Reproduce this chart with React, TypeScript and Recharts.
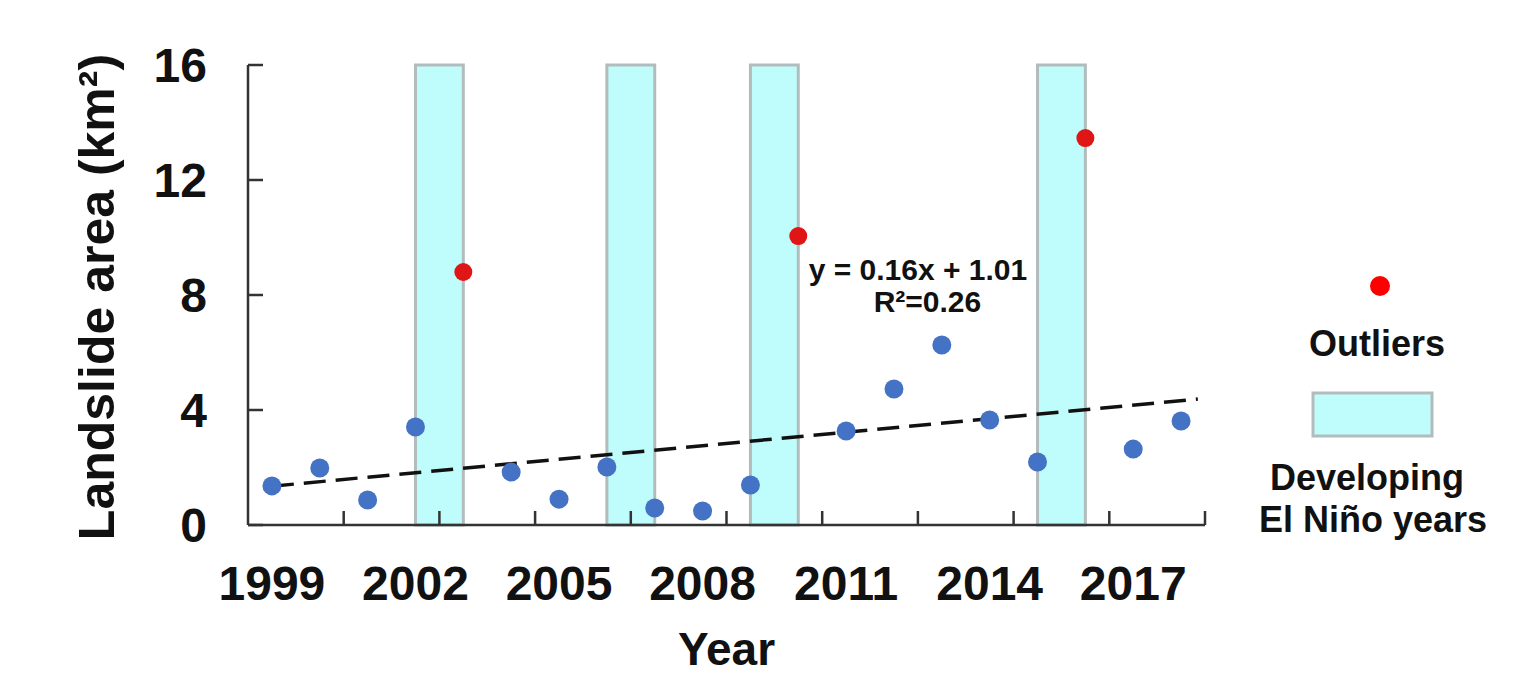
import {
  ComposedChart,
  Legend,
  Line,
  ReferenceArea,
  ReferenceDot,
  Scatter,
  XAxis,
  YAxis,
} from "recharts";

// Annual landslide area, 1999-2018
const YEARS = [
  1999, 2000, 2001, 2002, 2003, 2004, 2005, 2006, 2007, 2008, 2009, 2010, 2011,
  2012, 2013, 2014, 2015, 2016, 2017, 2018,
];
const AREA_KM2 = [
  1.36, 1.98, 0.87, 3.41, 8.8, 1.84, 0.9, 2.02, 0.59, 0.49, 1.39, 10.05, 3.27,
  4.73, 6.26, 3.65, 2.19, 13.46, 2.64, 3.62,
];
const OUTLIER_YEARS = [2003, 2010, 2016];
// each band covers the developing year up to the next one
const EL_NINO_YEARS = [2002, 2006, 2009, 2015];

// linear fit, drawn between its two end points
const TREND_YEARS = [1999, 2018.35];
const TREND_AREA = [1.35, 4.38];

const YEAR_LABELS = [1999, 2002, 2005, 2008, 2011, 2014, 2017];
const YEAR_MARKS = [
  2000.5, 2002.5, 2004.5, 2006.5, 2008.5, 2010.5, 2012.5, 2014.5, 2016.5,
  2018.5,
];
const AREA_TICKS = [0, 4, 8, 12, 16];

const FONT = '"Liberation Sans", Arial, Helvetica, sans-serif';
const INK = "#111";
const AXIS = "#333";
const BLUE = "#4472c4";
const RED = "#e01515";
const BAND_FILL = "#bffcfc";
const BAND_EDGE = "#b3bcbc";

const points = YEARS.map((year, i) => ({ year, area: AREA_KM2[i] }));
const regular = points.filter((p) => !OUTLIER_YEARS.includes(p.year));
const outliers = points.filter((p) => OUTLIER_YEARS.includes(p.year));
const trend = TREND_YEARS.map((year, i) => ({ year, area: TREND_AREA[i] }));
const xTicks = [...YEAR_LABELS, ...YEAR_MARKS].sort((a, b) => a - b);

function YTick({ x, y, payload }: any) {
  return (
    <g>
      <line x1={x} y1={y} x2={x + 15} y2={y} stroke={AXIS} strokeWidth={2.5} />
      <text
        x={x - 41}
        y={y}
        textAnchor="end"
        dominantBaseline="central"
        fontFamily={FONT}
        fontWeight="bold"
        fontSize={48}
        fill={INK}
      >
        {payload.value}
      </text>
    </g>
  );
}

// labelled years get text; the half-year positions get inward tick marks
function XTick({ x, y, payload }: any) {
  if (YEAR_LABELS.includes(payload.value)) {
    return (
      <text
        x={x}
        y={y + 75}
        textAnchor="middle"
        fontFamily={FONT}
        fontWeight="bold"
        fontSize={48}
        fill={INK}
      >
        {payload.value}
      </text>
    );
  }
  return <line x1={x} y1={y} x2={x} y2={y - 14} stroke={AXIS} strokeWidth={2.5} />;
}

function YTitle({ viewBox }: any) {
  const cx = viewBox.x + viewBox.width - 151;
  const cy = viewBox.y + viewBox.height / 2 + 2;
  return (
    <text
      x={cx}
      y={cy}
      transform={`rotate(-90 ${cx} ${cy})`}
      textAnchor="middle"
      dominantBaseline="central"
      fontFamily={FONT}
      fontWeight="bold"
      fontSize={50}
      fill={INK}
    >
      Landslide area (km²)
    </text>
  );
}

const dot = (color: string, r: number) => (props: any) =>
  <circle cx={props.cx} cy={props.cy} r={r} fill={color} />;

function Key() {
  const text = {
    fontFamily: FONT,
    fontWeight: "bold" as const,
    fontSize: 36,
    fill: INK,
    textAnchor: "middle" as const,
    dominantBaseline: "central" as const,
  };
  return (
    <svg width={260} height={300}>
      <circle cx={130} cy={26} r={10} fill="#ff0000" />
      <text x={127} y={83} {...text}>
        Outliers
      </text>
      <rect
        x={63}
        y={133}
        width={119}
        height={43}
        fill={BAND_FILL}
        stroke={BAND_EDGE}
        strokeWidth={3}
      />
      <text x={117} y={217} {...text}>
        Developing
      </text>
      <text x={123} y={259} {...text}>
        El Niño years
      </text>
    </svg>
  );
}

export default function App() {
  return (
    <div
      style={{
        position: "absolute",
        left: 0,
        top: 0,
        width: 1536,
        height: 698,
        background: "#fff",
      }}
    >
      <ComposedChart
        width={1536}
        height={698}
        margin={{ top: 65, right: 331, bottom: 73, left: 148 }}
      >
        {EL_NINO_YEARS.map((y) => (
          <ReferenceArea
            key={y}
            x1={y}
            x2={y + 1}
            y1={0}
            y2={16}
            fill={BAND_FILL}
            fillOpacity={1}
            stroke={BAND_EDGE}
            strokeWidth={3}
            ifOverflow="visible"
          />
        ))}
        <XAxis
          dataKey="year"
          type="number"
          domain={[1998.5, 2018.5]}
          ticks={xTicks}
          interval={0}
          tickLine={false}
          tickSize={0}
          tickMargin={0}
          height={100}
          tick={<XTick />}
          axisLine={{ stroke: AXIS, strokeWidth: 2.5 }}
          label={{
            value: "Year",
            position: "bottom",
            offset: 7,
            fontFamily: FONT,
            fontWeight: "bold",
            fontSize: 46,
            fill: INK,
          }}
        />
        <YAxis
          dataKey="area"
          type="number"
          domain={[0, 16]}
          ticks={AREA_TICKS}
          interval={0}
          tickLine={false}
          tickSize={0}
          tickMargin={0}
          width={100}
          tick={<YTick />}
          axisLine={{ stroke: AXIS, strokeWidth: 2.5 }}
          label={<YTitle />}
        />
        <Line
          data={trend}
          dataKey="area"
          type="linear"
          stroke={INK}
          strokeWidth={3.5}
          strokeDasharray="22 10"
          dot={false}
          activeDot={false}
          isAnimationActive={false}
        />
        <Scatter
          data={regular}
          dataKey="area"
          fill={BLUE}
          shape={dot(BLUE, 9.5)}
          isAnimationActive={false}
        />
        <Scatter
          data={outliers}
          dataKey="area"
          fill={RED}
          shape={dot(RED, 9)}
          isAnimationActive={false}
        />
        <ReferenceDot
          x={2012.5}
          y={8.9}
          r={0}
          stroke="none"
          ifOverflow="visible"
          label={{
            value: "y = 0.16x + 1.01",
            position: "center",
            fontFamily: FONT,
            fontWeight: "bold",
            fontSize: 30,
            fill: INK,
          }}
        />
        <ReferenceDot
          x={2012.7}
          y={7.77}
          r={0}
          stroke="none"
          ifOverflow="visible"
          label={{
            value: "R²=0.26",
            position: "center",
            fontFamily: FONT,
            fontWeight: "bold",
            fontSize: 30,
            fill: INK,
          }}
        />
        <Legend
          layout="horizontal"
          align="center"
          verticalAlign="middle"
          wrapperStyle={{ left: 1250, top: 260, width: 260, height: 300 }}
          content={<Key />}
        />
      </ComposedChart>
    </div>
  );
}
